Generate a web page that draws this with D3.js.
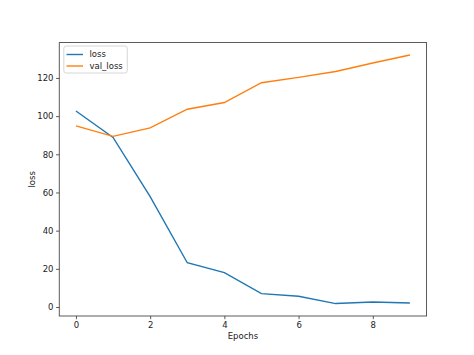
<!DOCTYPE html>
<html><head><meta charset="utf-8">
<script src="https://cdn.jsdelivr.net/npm/d3@7"></script>
<style>body{margin:0;background:#fff}svg{display:block;font-family:"DejaVu Sans",sans-serif}</style>
</head><body>
<script>
const epochs = [0,1,2,3,4,5,6,7,8,9];
const loss = [102.7, 88.8, 57.8, 23.2, 18.0, 7.0, 5.6, 1.8, 2.6, 2.1];
const valLoss = [94.9, 89.4, 93.8, 103.6, 107.1, 117.5, 120.3, 123.4, 127.8, 132.0];
const xTicks = [0,2,4,6,8];
const yTicks = [0,20,40,60,80,100,120];
const seriesNames = ["loss","val_loss"];
const colors = ["#1f77b4","#ff7f0e"];

const W=474,H=355,FS="8.5px";
const L=59.25,R=426.6,T=42.6,B=316;
const svg=d3.select("body").append("svg").attr("width",W).attr("height",H);
const x=d3.scaleLinear().domain([-0.45,9.45]).range([L,R]);
const all=loss.concat(valLoss);
const mn=d3.min(all),mx=d3.max(all),pad=(mx-mn)*0.05;
const y=d3.scaleLinear().domain([mn-pad,mx+pad]).range([B,T]);

const xa=svg.append("g").attr("transform",`translate(0,${B})`)
  .call(d3.axisBottom(x).tickValues(xTicks).tickSize(3.2).tickPadding(2.6).tickFormat(d3.format("d")));
const ya=svg.append("g").attr("transform",`translate(${L},0)`)
  .call(d3.axisLeft(y).tickValues(yTicks).tickSize(3.2).tickPadding(2.6).tickFormat(d3.format("d")));
[xa,ya].forEach(a=>{a.select(".domain").remove();a.selectAll("line").attr("stroke","#333").attr("stroke-width",0.8);
  a.selectAll("text").attr("font-size",FS).attr("fill","#222").attr("font-family","DejaVu Sans");});

const line=d3.line().x((d,i)=>x(epochs[i])).y(d=>y(d));
[loss,valLoss].forEach((s,k)=>{
  svg.append("path").datum(s).attr("d",line).attr("fill","none").attr("stroke",colors[k]).attr("stroke-width",1.4);
});

svg.append("rect").attr("x",L).attr("y",T).attr("width",R-L).attr("height",B-T)
  .attr("fill","none").attr("stroke","#333").attr("stroke-width",0.8);

// legend
const lg=svg.append("g");
lg.append("rect").attr("x",63.8).attr("y",46).attr("width",63.5).attr("height",27).attr("rx",2.5)
  .attr("fill","#fff").attr("fill-opacity",0.8).attr("stroke","#ccc").attr("stroke-width",0.8);
seriesNames.forEach((n,k)=>{
  const yy=54.5+k*11.5;
  lg.append("line").attr("x1",66.5).attr("x2",83).attr("y1",yy).attr("y2",yy).attr("stroke",colors[k]).attr("stroke-width",1.4);
  lg.append("text").attr("x",89.5).attr("y",yy).attr("dy","0.35em").attr("font-size",FS).attr("fill","#222").text(n);
});

svg.append("text").attr("x",(L+R)/2).attr("y",338.5).attr("text-anchor","middle").attr("font-size",FS).attr("fill","#222").text("Epochs");
svg.append("text").attr("transform",`translate(35,${(T+B)/2}) rotate(-90)`).attr("text-anchor","middle").attr("font-size",FS).attr("fill","#222").text("loss");
</script>
</body></html>
